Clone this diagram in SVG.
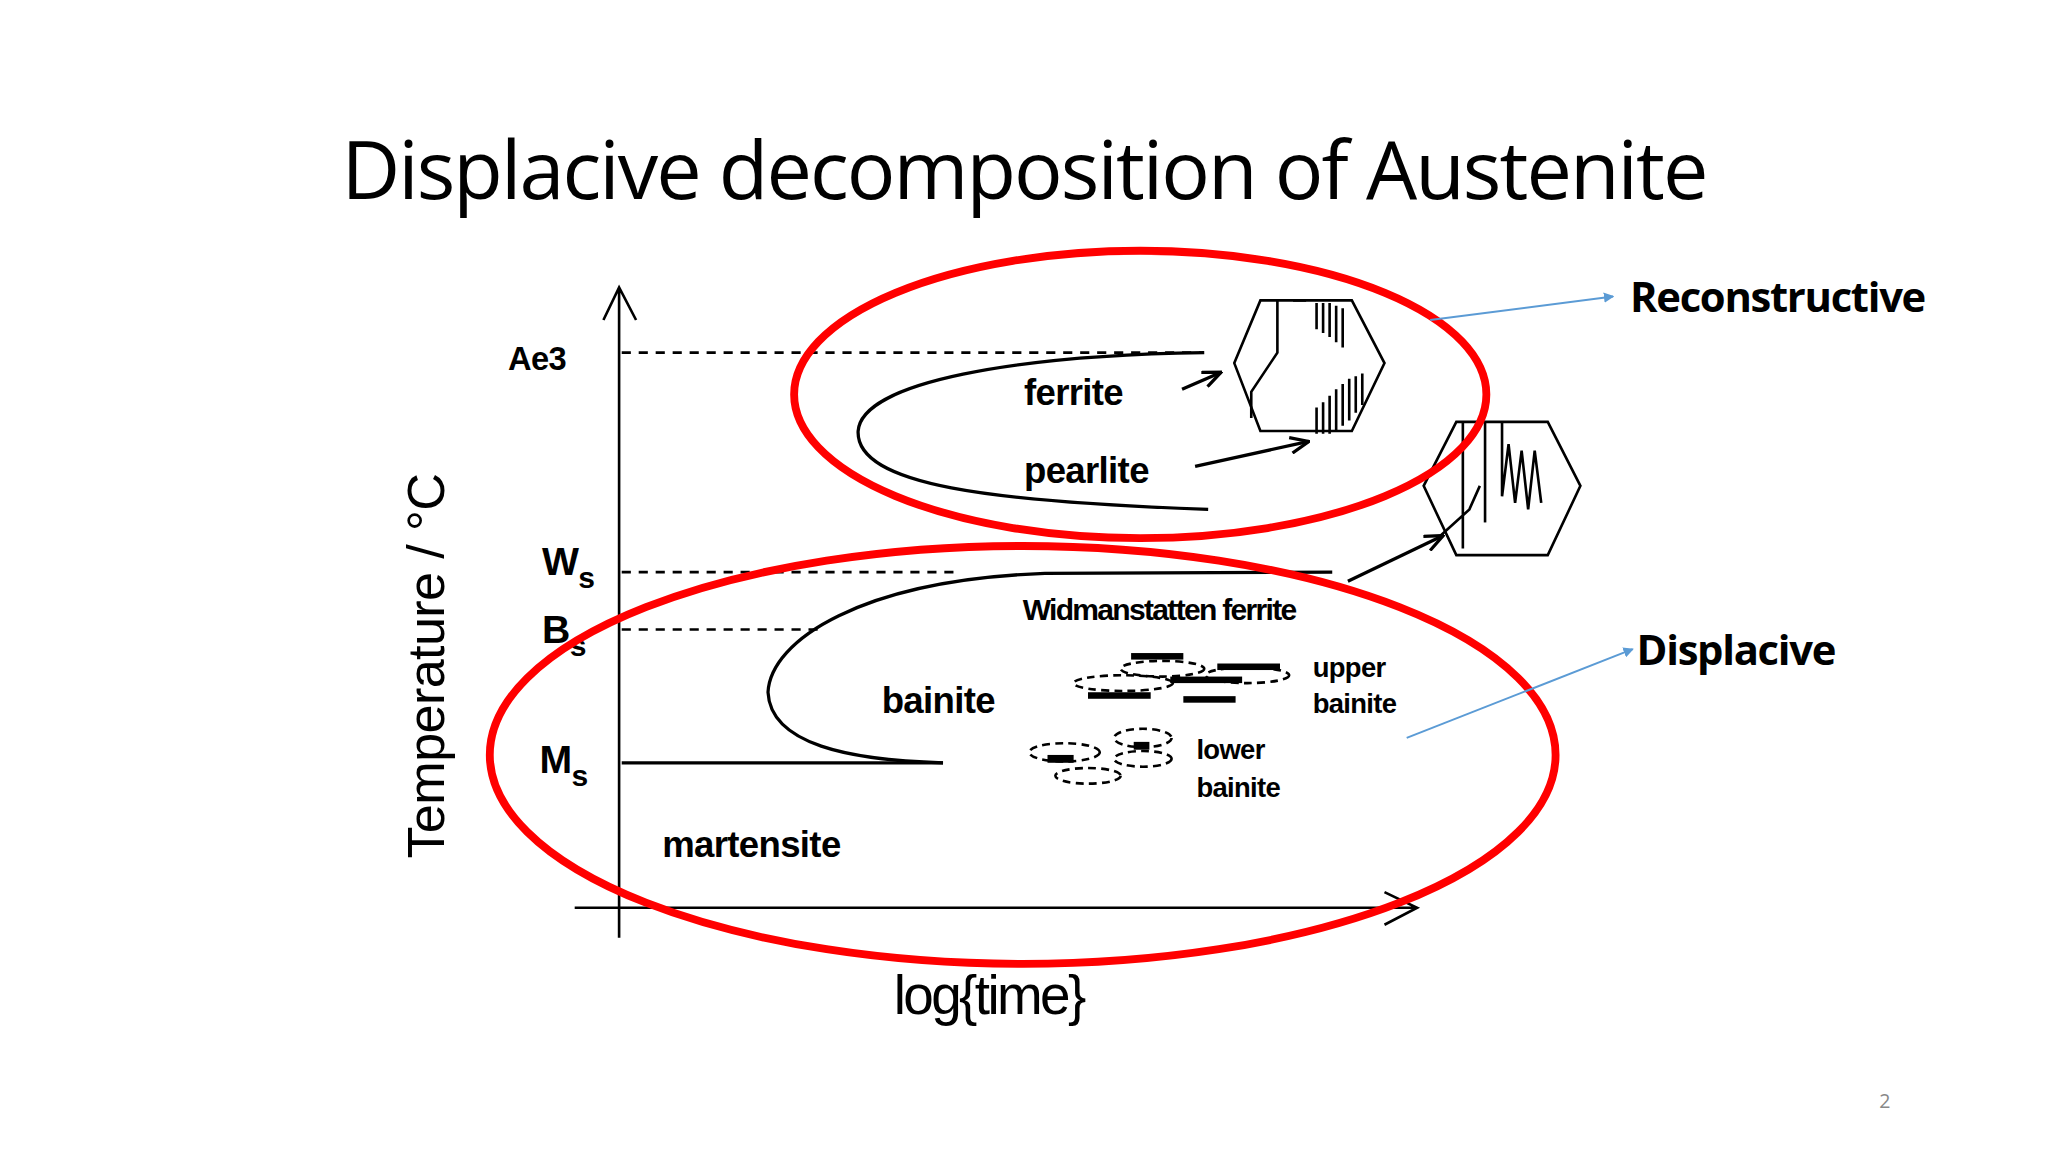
<svg xmlns="http://www.w3.org/2000/svg" width="2048" height="1152" viewBox="0 0 2048 1152">
<style>
.ax{stroke:#000;stroke-width:2;fill:none}
.dash{stroke:#000;stroke-width:2;stroke-dasharray:7 6;fill:none}
.ln{stroke:#000;stroke-width:2.5;fill:none}
.lb{font-family:"Liberation Sans",Arial,sans-serif;font-weight:bold;fill:#000;letter-spacing:-0.5px}
.red{stroke:#f00;stroke-width:6;fill:none}
.blue{stroke:#5b9bd5;stroke-width:1.5;fill:none}
.cal{font-family:"Open Sans","Liberation Sans",sans-serif;fill:#000}
.de{stroke:#000;stroke-width:2;stroke-dasharray:6 4;fill:none}
</style>
<defs>
<marker id="bh" markerWidth="8" markerHeight="8" refX="7" refY="4" orient="auto" markerUnits="userSpaceOnUse"><path d="M0,0 L8,4 L0,8 Z" fill="#5b9bd5"/></marker>
<marker id="oh" markerWidth="16" markerHeight="14" refX="15" refY="7" orient="auto" markerUnits="userSpaceOnUse"><path d="M1,1 L15,7 L1,13" stroke="#000" stroke-width="2.5" fill="none"/></marker>
</defs>
<rect width="2048" height="1152" fill="#fff"/>
<g transform="scale(1.30612)">
<text id="title" x="784" y="152" text-anchor="middle" class="cal" font-size="62" style="letter-spacing:-1.5px">Displacive decomposition of Austenite</text>
<g id="axes">
<path class="ax" d="M474,718 V222 M462,245 L474,220 L487,245"/>
<path class="ax" d="M440,695 H1085 M1060,683 L1085,695 L1060,708"/>
<text class="lb" x="0" y="0" font-size="40" transform="translate(340,510) rotate(-90)" text-anchor="middle" style="font-weight:normal">Temperature / °C</text>
<text class="lb" x="757" y="776" font-size="42" text-anchor="middle" style="font-weight:normal;letter-spacing:-2px">log{time}</text>
</g>
<g id="levels">
<text class="lb" x="389" y="283" font-size="25">Ae3</text>
<path class="dash" d="M476,270 H920"/>
<text class="lb" x="415" y="440" font-size="30">W<tspan font-size="23" dy="10">s</tspan></text>
<path class="dash" d="M476,438 H735"/>
<text class="lb" x="415" y="492" font-size="30">B<tspan font-size="23" dy="10">s</tspan></text>
<path class="dash" d="M476,482 H630"/>
<text class="lb" x="413" y="592" font-size="30">M<tspan font-size="23" dy="10">s</tspan></text>
<path class="ln" d="M476,584 H722"/>
</g>
<g id="curves">
<path class="ln" d="M922,270 C780,272 660,292 657,330 C655,372 760,384 925,390"/>
<path class="ln" d="M1020,438 L800,439 C660,444 590,490 588,530 C590,570 650,582 722,584"/>
</g>
<g id="labels">
<text class="lb" x="784" y="310" font-size="28">ferrite</text>
<text class="lb" x="784" y="370" font-size="28">pearlite</text>
<text class="lb" x="783" y="475" font-size="23" style="letter-spacing:-1.3px">Widmanstatten ferrite</text>
<text class="lb" x="675" y="546" font-size="28">bainite</text>
<text class="lb" x="1005" y="518" font-size="21">upper</text>
<text class="lb" x="1005" y="546" font-size="21">bainite</text>
<text class="lb" x="916" y="581" font-size="21">lower</text>
<text class="lb" x="916" y="610" font-size="21">bainite</text>
<text class="lb" x="507" y="656" font-size="28">martensite</text>
</g>
<g id="arrows">
<path class="ln" d="M905,298 L935,285" marker-end="url(#oh)"/>
<path class="ln" d="M915,357 L1002,338" marker-end="url(#oh)"/>
<path class="ln" d="M1032,445 L1105,410" marker-end="url(#oh)"/>
</g>
<g id="hex1">
<path class="ax" d="M965,230 H1035 L1060,278 L1035,330 H965 L945,278 Z"/>
<path class="ax" d="M978,230 V270 L958,300 V320 M990,230 H1000"/>
<path class="ax" stroke-width="1.5" d="M1008,232 V252 M1013,232 V255 M1018,232 V258 M1023,234 V262 M1028,236 V266 M1008,332 V312 M1013,332 V308 M1018,332 V303 M1023,330 V298 M1028,326 V294 M1033,322 V290 M1038,316 V288 M1043,310 V286"/>
</g>
<g id="hex2">
<path class="ax" d="M1115,323 H1185 L1210,372 L1185,425 H1115 L1090,372 Z"/>
<path class="ax" d="M1120,323 V420 M1150,323 V380 L1155,340 L1160,385 L1165,345 L1170,390 L1175,345 L1180,385 M1103,410 L1125,390 L1133,372"/>
<path class="ax" d="M1137,323 V400"/>
</g>
<g id="upper-bainite">
<rect x="866" y="500" width="40" height="5"/>
<rect x="932" y="508" width="48" height="5"/>
<rect x="896" y="518" width="55" height="5"/>
<rect x="833" y="530" width="48" height="5"/>
<rect x="906" y="533" width="40" height="5"/>
<ellipse class="de" cx="890" cy="512" rx="32" ry="6"/>
<ellipse class="de" cx="955" cy="517" rx="32" ry="6"/>
<ellipse class="de" cx="860" cy="523" rx="38" ry="6"/>
</g>
<g id="lower-bainite">
<ellipse class="de" cx="815" cy="576" rx="27" ry="7"/>
<ellipse class="de" cx="875" cy="565" rx="22" ry="7"/>
<ellipse class="de" cx="875" cy="581" rx="22" ry="6"/>
<ellipse class="de" cx="833" cy="594" rx="25" ry="6"/>
<rect x="802" y="578" width="20" height="6"/>
<rect x="868" y="568" width="12" height="6"/>
</g>
<g id="highlights">
<ellipse class="red" cx="873" cy="302" rx="265" ry="110"/>
<ellipse class="red" cx="783" cy="578" rx="408" ry="160"/>
<path class="blue" d="M1095,245 L1235,227" marker-end="url(#bh)"/>
<path class="blue" d="M1077,565 L1250,497" marker-end="url(#bh)"/>
<text class="cal" x="1248" y="239" font-size="32" font-weight="bold" style="letter-spacing:-1px">Reconstructive</text>
<text class="cal" x="1253" y="509" font-size="32" font-weight="bold" style="letter-spacing:-1px">Displacive</text>
<text class="cal" x="1443" y="848" font-size="15" text-anchor="middle" style="fill:#888">2</text>
</g>
</g>
</svg>
